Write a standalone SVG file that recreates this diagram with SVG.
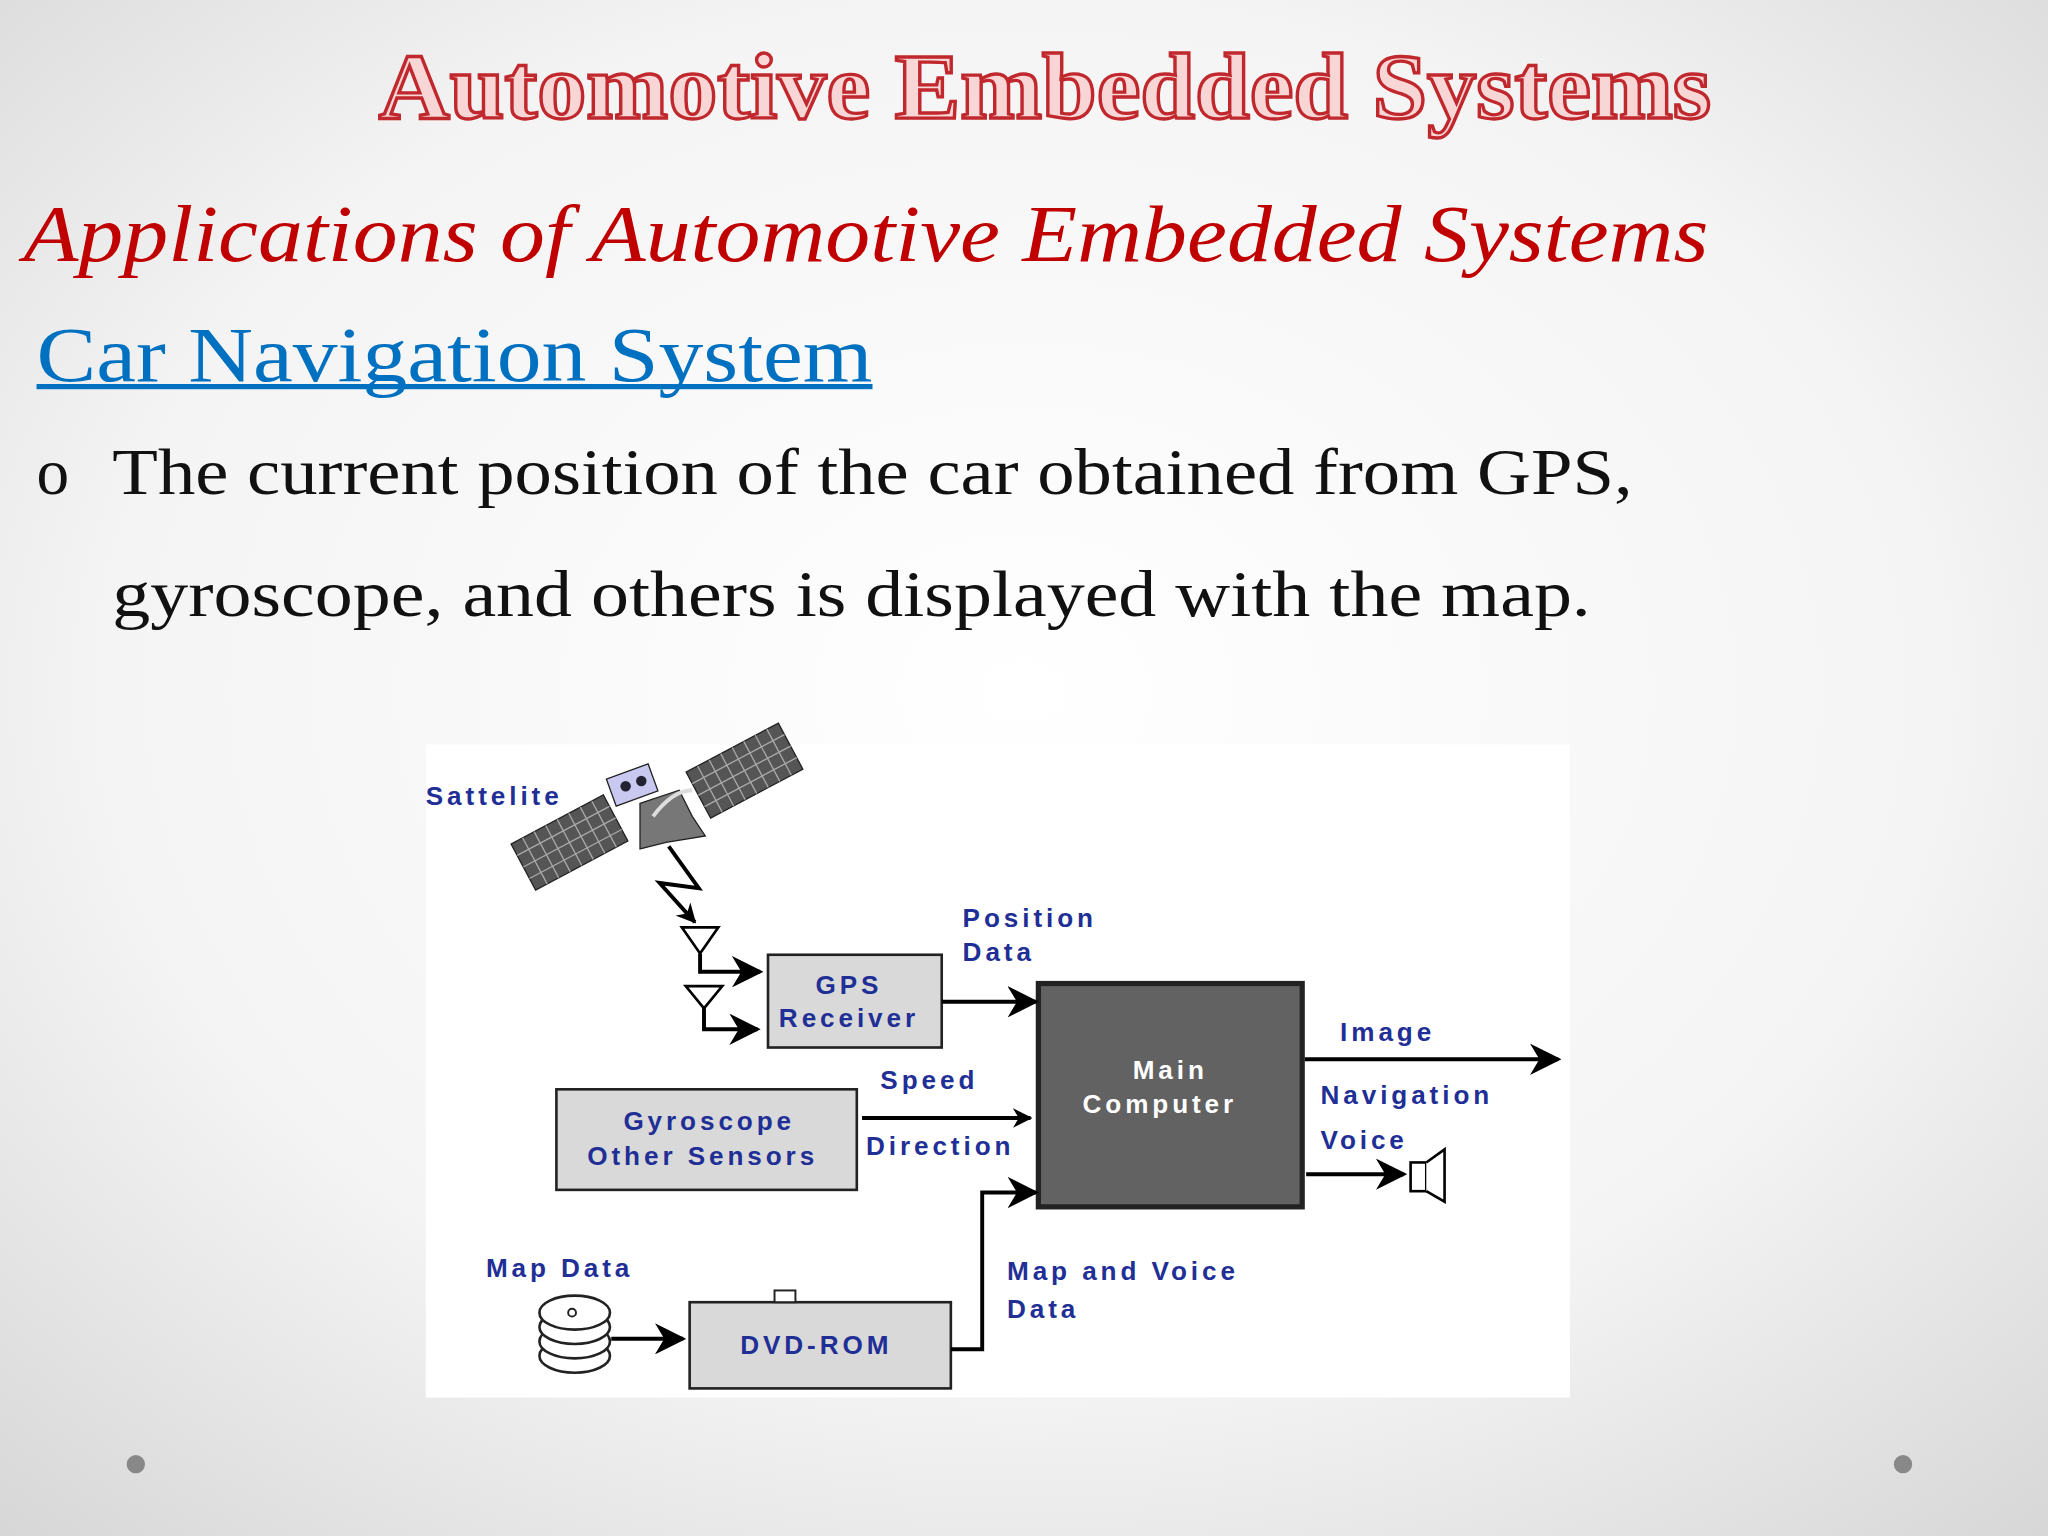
<svg xmlns="http://www.w3.org/2000/svg" width="2048" height="1536" viewBox="0 0 2048 1536">
<defs>
<radialGradient id="bg" cx="0.5" cy="0.45" r="0.75">
<stop offset="0" stop-color="#ffffff"/><stop offset="0.6" stop-color="#f4f4f4"/><stop offset="1" stop-color="#d6d6d6"/>
</radialGradient>
<marker id="ah" viewBox="0 0 10 10" refX="9" refY="5" markerWidth="5" markerHeight="5" orient="auto" markerUnits="strokeWidth"><path d="M0,0 L10,5 L0,10 L3,5 z" fill="#000"/></marker>
<marker id="ah2" viewBox="0 0 10 10" refX="9" refY="5" markerWidth="8" markerHeight="8" orient="auto" markerUnits="strokeWidth"><path d="M0,0 L10,5 L0,10 L3,5 z" fill="#000"/></marker>
</defs>
<style>
.lbl{font-family:"Liberation Sans",Arial,sans-serif;font-weight:bold;font-size:20px;fill:#1f2f96;letter-spacing:3px}
.box{fill:#d9d9d9;stroke:#222;stroke-width:2}
.ln{stroke:#000;stroke-width:3;fill:none}
.body{font-family:"Liberation Serif","Times New Roman",serif;font-size:50px;fill:#111}
</style>
<rect width="2048" height="1536" fill="url(#bg)"/>
<g transform="scale(1.30612)">
<g id="titles">
<text x="800" y="90" text-anchor="middle" font-family="Liberation Serif,serif" font-weight="bold" font-size="72" fill="#f9d6d6" stroke="#c0282d" stroke-width="2.5" textLength="1020" lengthAdjust="spacingAndGlyphs">Automotive Embedded Systems</text>
<text x="18" y="200" font-family="Liberation Serif,serif" font-style="italic" font-size="62" fill="#c00000" textLength="1290" lengthAdjust="spacingAndGlyphs">Applications of Automotive Embedded Systems</text>
<text x="28" y="292" font-family="Liberation Serif,serif" font-size="60" fill="#0070c0" textLength="640" lengthAdjust="spacingAndGlyphs">Car Navigation System</text>
<rect x="28" y="294" width="640" height="4" fill="#0070c0"/>
<text x="28" y="378" class="body">o</text>
<text x="86" y="378" class="body" textLength="1164" lengthAdjust="spacingAndGlyphs">The current position of the car obtained from GPS,</text>
<text x="86" y="472" class="body" textLength="1132" lengthAdjust="spacingAndGlyphs">gyroscope, and others is displayed with the map.</text>
</g>
<rect x="326" y="570" width="876" height="500" fill="#fff"/>
<g id="satellite">
<g transform="rotate(-28 436 645)"><rect x="396" y="625" width="80" height="40" fill="#555" stroke="#222"/>
<path d="M406,625V665M416,625V665M426,625V665M436,625V665M446,625V665M456,625V665M466,625V665M396,635H476M396,645H476M396,655H476" stroke="#aaa" stroke-width="1"/></g>
<g transform="rotate(-28 570 590)"><rect x="530" y="570" width="80" height="40" fill="#555" stroke="#222"/>
<path d="M540,570V610M550,570V610M560,570V610M570,570V610M580,570V610M590,570V610M600,570V610M530,580H610M530,590H610M530,600H610" stroke="#aaa" stroke-width="1"/></g>
<rect x="467" y="590" width="34" height="22" fill="#c9c8f0" stroke="#222" transform="rotate(-20 484 601)"/>
<circle cx="479" cy="602" r="4" fill="#223"/><circle cx="491" cy="598" r="4" fill="#223"/>
<path d="M490,615 L520,605 L530,625 L540,640 L510,645 L490,650 Z" fill="#777" stroke="#222"/>
<path d="M500,625 Q515,605 530,605" stroke="#ddd" stroke-width="3" fill="none"/>
<text x="326" y="616" class="lbl">Sattelite</text>
</g>
<g id="gps"><rect x="588" y="731" width="133" height="71" class="box"/>
<text x="650" y="761" class="lbl" text-anchor="middle">GPS</text><text x="650" y="786" class="lbl" text-anchor="middle">Receiver</text></g>
<g id="main"><rect x="795" y="753" width="202" height="171" fill="#626262" stroke="#222" stroke-width="4"/>
<text x="896" y="826" class="lbl" style="fill:#fff" text-anchor="middle">Main</text><text x="888" y="852" class="lbl" style="fill:#fff" text-anchor="middle">Computer</text></g>
<g id="gyro"><rect x="426" y="834" width="230" height="77" class="box"/>
<text x="543" y="865" class="lbl" text-anchor="middle">Gyroscope</text><text x="538" y="892" class="lbl" text-anchor="middle">Other Sensors</text></g>
<g id="dvd"><rect x="528" y="997" width="200" height="66" class="box"/><rect x="593" y="988" width="16" height="9" fill="#fff" stroke="#222" stroke-width="1.5"/>
<text x="625" y="1037" class="lbl" text-anchor="middle">DVD-ROM</text></g>
<g id="disk" fill="#fff" stroke="#222" stroke-width="2">
<ellipse cx="440" cy="1038" rx="27" ry="13"/><ellipse cx="440" cy="1027" rx="27" ry="13"/><ellipse cx="440" cy="1016" rx="27" ry="13"/><ellipse cx="440" cy="1005" rx="27" ry="13"/>
<circle cx="438" cy="1005" r="3" stroke-width="1.5"/></g>
<g id="speaker"><rect x="1080" y="890" width="12" height="22" fill="#fff" stroke="#000" stroke-width="2"/><path d="M1092,890 L1106,880 L1106,920 L1092,912" fill="#fff" stroke="#000" stroke-width="2"/></g>
<g id="connectors">
<path d="M512,648 L535,680 L505,676 L532,706" class="ln" stroke-width="2.5" marker-end="url(#ah)"/>
<path d="M522,710 L550,710 L536,730 Z" fill="#fff" stroke="#000" stroke-width="2"/>
<path d="M536,730 V744 H582" class="ln" marker-end="url(#ah2)"/>
<path d="M525,755 L553,755 L539,772 Z" fill="#fff" stroke="#000" stroke-width="2"/>
<path d="M539,772 V788 H580" class="ln" marker-end="url(#ah2)"/>
<path d="M721,767 H793" class="ln" marker-end="url(#ah2)"/>
<path d="M660,856 H789" class="ln" stroke-width="5" marker-end="url(#ah)"/>
<path d="M999,811 H1193" class="ln" marker-end="url(#ah2)"/>
<path d="M1000,899 H1075" class="ln" marker-end="url(#ah2)"/>
<path d="M468,1025 H523" class="ln" marker-end="url(#ah2)"/>
<path d="M728,1033 H752 V913 H793" class="ln" marker-end="url(#ah2)"/>
</g>
<g id="labels">
<text x="737" y="710" class="lbl">Position</text><text x="737" y="736" class="lbl">Data</text>
<text x="674" y="834" class="lbl">Speed</text><text x="663" y="884" class="lbl">Direction</text>
<text x="1026" y="797" class="lbl">Image</text><text x="1011" y="845" class="lbl">Navigation</text><text x="1011" y="880" class="lbl">Voice</text>
<text x="372" y="978" class="lbl">Map Data</text>
<text x="771" y="980" class="lbl">Map and Voice</text><text x="771" y="1009" class="lbl">Data</text>
</g>
<circle cx="104" cy="1121" r="7" fill="#888"/><circle cx="1457" cy="1121" r="7" fill="#888"/>
</g>
</svg>
